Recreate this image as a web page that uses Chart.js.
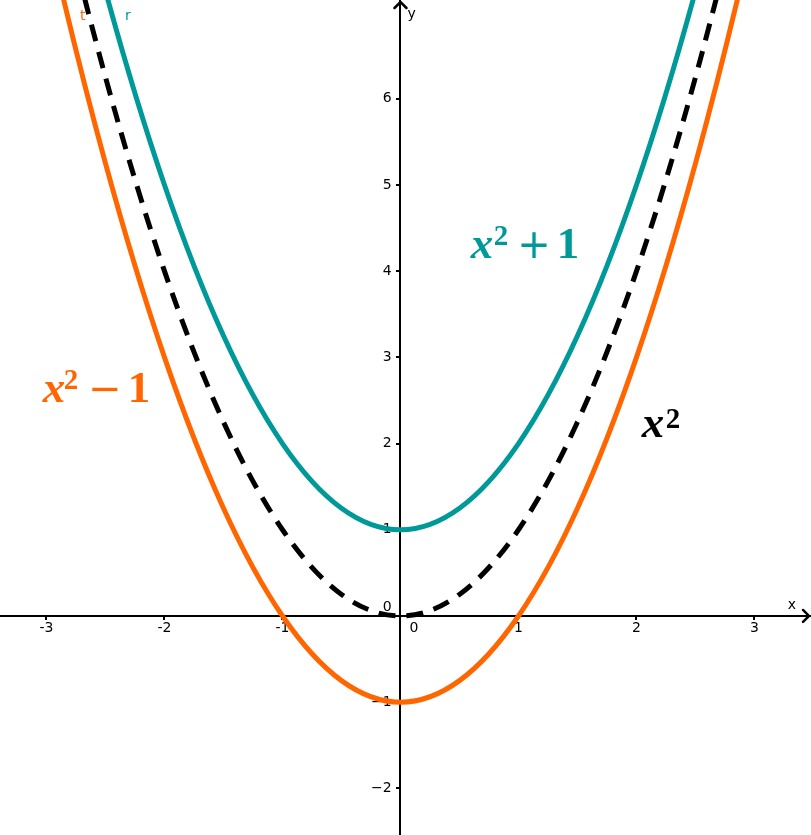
<!DOCTYPE html>
<html>
<head>
<meta charset="utf-8">
<script src="https://cdn.jsdelivr.net/npm/chart.js@4.4.1/dist/chart.umd.min.js"></script>
<style>
  html, body { margin: 0; padding: 0; background: #fff; }
  #wrap { width: 811px; height: 835px; position: relative; }
</style>
</head>
<body>
<div id="wrap"><canvas id="grafico"></canvas></div>
<script>
// valores
const xs = [-3.5, -3, -2.5, -2, -1.5, -1, -0.5, 0, 0.5, 1, 1.5, 2, 2.5, 3, 3.5];
const ySq = [12.25, 9, 6.25, 4, 2.25, 1, 0.25, 0, 0.25, 1, 2.25, 4, 6.25, 9, 12.25];
const ySqPlus = [13.25, 10, 7.25, 5, 3.25, 2, 1.25, 1, 1.25, 2, 3.25, 5, 7.25, 10, 13.25];
const ySqMinus = [11.25, 8, 5.25, 3, 1.25, 0, -0.75, -1, -0.75, 0, 1.25, 3, 5.25, 8, 11.25];
const xTicks = [-3, -2, -1, 0, 1, 2, 3];
const yTicks = [-2, -1, 0, 1, 2, 3, 4, 5, 6];

const NARANJA = '#ff6600';
const TEAL = '#009999';

const puntos = (ys) => xs.map((x, i) => ({ x: x, y: ys[i] }));

function curva(label, ys, color, dash) {
  return {
    label: label,
    data: puntos(ys),
    showLine: true,
    borderColor: color,
    borderWidth: 5,
    borderDash: dash || [],
    pointRadius: 0,
    cubicInterpolationMode: 'monotone',
    fill: false,
  };
}

// sin margen extra de las escalas: el area del grafico ocupa todo el canvas
const sinPadding = (s) => {
  s.paddingTop = 0;
  s.paddingBottom = 0;
  s.paddingLeft = 0;
  s.paddingRight = 0;
};

// flechas, nombres de ejes y rotulos
const decoracion = {
  id: 'decoracion',
  afterDraw(chart) {
    const ctx = chart.ctx;
    const sx = chart.scales.x, sy = chart.scales.y;
    const ox = sx.getPixelForValue(0), oy = sy.getPixelForValue(0);
    ctx.save();
    ctx.strokeStyle = '#000';
    ctx.lineWidth = 2.5;
    ctx.lineCap = 'round';
    ctx.beginPath();
    ctx.moveTo(ox - 6, 8); ctx.lineTo(ox, 2); ctx.lineTo(ox + 6, 8);
    ctx.moveTo(chart.width - 8, oy - 6); ctx.lineTo(chart.width - 2, oy); ctx.lineTo(chart.width - 8, oy + 6);
    ctx.stroke();

    ctx.font = '14px "DejaVu Sans"';
    ctx.textBaseline = 'alphabetic';
    ctx.fillStyle = '#000';
    ctx.textAlign = 'center';
    ctx.fillText('x', chart.width - 19, oy - 7);
    ctx.textAlign = 'left';
    ctx.fillText('y', ox + 7, 18);
    ctx.fillStyle = NARANJA;
    ctx.fillText('t', 80, 20);
    ctx.fillStyle = TEAL;
    ctx.fillText('r', 125, 20);

    const serif = '"Liberation Serif"';
    const rotulos = [
      { color: TEAL, partes: [
        ['x', 'italic bold 45px ' + serif, 482, 258],
        ['2', 'bold 29px ' + serif, 501, 245],
        ['+', '40px "DejaVu Sans"', 534, 258],
        ['1', 'bold 45px ' + serif, 568, 258],
      ] },
      { color: NARANJA, partes: [
        ['x', 'italic bold 45px ' + serif, 54, 402],
        ['2', 'bold 29px ' + serif, 71, 389],
        ['\u2212', '40px "DejaVu Sans"', 105, 402],
        ['1', 'bold 45px ' + serif, 139, 402],
      ] },
      { color: '#000', partes: [
        ['x', 'italic bold 45px ' + serif, 653, 437],
        ['2', 'bold 29px ' + serif, 673, 428],
      ] },
    ];
    ctx.textAlign = 'center';
    rotulos.forEach((r) => {
      ctx.fillStyle = r.color;
      r.partes.forEach((p) => {
        ctx.font = p[1];
        ctx.fillText(p[0], p[2], p[3]);
      });
    });
    ctx.restore();
  },
};

const fuenteTicks = { family: '"DejaVu Sans"', size: 14 };

const ctx = document.getElementById('grafico').getContext('2d');
window.myChart = new Chart(ctx, {
  type: 'scatter',
  data: {
    datasets: [
      curva('t', ySqMinus, NARANJA),
      curva('r', ySqPlus, TEAL),
      curva('f', ySq, '#000', [17, 11]),
    ],
  },
  options: {
    responsive: true,
    maintainAspectRatio: false,
    animation: false,
    layout: { padding: 0 },
    plugins: { legend: { display: false }, tooltip: { enabled: false } },
    scales: {
      x: {
        type: 'linear',
        min: -3.394,
        max: 3.479,
        position: { y: 0 },
        afterBuildTicks: (s) => { s.ticks = xTicks.map((v) => ({ value: v })); },
        afterFit: sinPadding,
        grid: { drawOnChartArea: false, tickLength: 3, color: '#000', lineWidth: 2 },
        border: { color: '#000', width: 2 },
        ticks: {
          font: fuenteTicks,
          color: '#000',
          padding: 1,
          maxRotation: 0,
          autoSkip: false,
          callback: (v) => (v === 0 ? '\u2007\u2007\u20070' : String(v)),
        },
      },
      y: {
        type: 'linear',
        min: -2.541,
        max: 7.146,
        position: { x: 0 },
        afterBuildTicks: (s) => { s.ticks = yTicks.map((v) => ({ value: v })); },
        afterFit: sinPadding,
        grid: { drawOnChartArea: false, tickLength: 3, color: '#000', lineWidth: 2 },
        border: { color: '#000', width: 2 },
        ticks: {
          font: fuenteTicks,
          color: '#000',
          padding: 6,
          autoSkip: false,
          callback: (v) => (v === 0 ? ['0  ', ''] : String(v).replace('-', '\u2212') + '  '),
        },
      },
    },
  },
  plugins: [decoracion],
});
</script>
</body>
</html>
